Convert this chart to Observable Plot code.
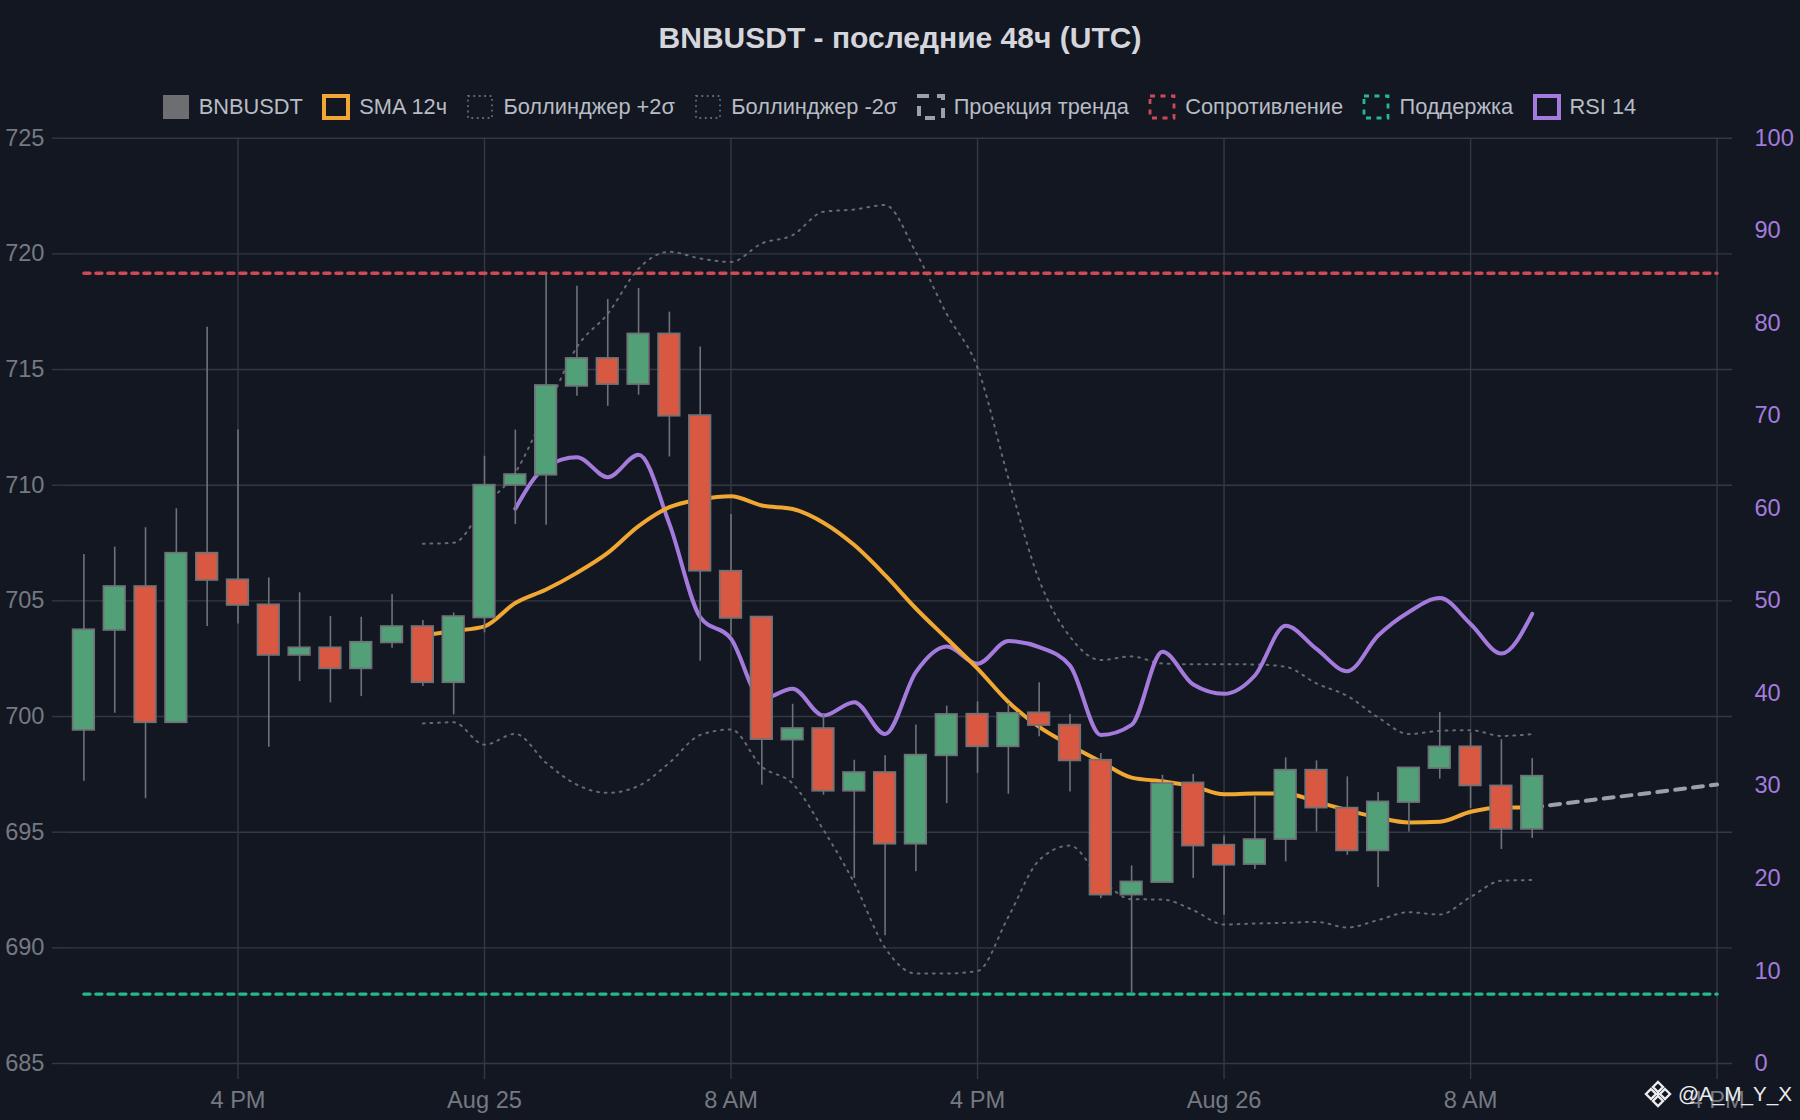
<!DOCTYPE html>
<html lang="ru">
<head>
<meta charset="utf-8">
<script src="https://cdn.jsdelivr.net/npm/d3@7"></script>
<script src="https://cdn.jsdelivr.net/npm/@observablehq/plot@0.6"></script>
<style>
  html, body { margin: 0; padding: 0; background: #121722; }
  body { width: 1800px; height: 1120px; position: relative; overflow: hidden; font-family: "Liberation Sans", sans-serif; }
  #title { height: 68px; line-height: 76px; text-align: center; font-size: 30px; font-weight: 700; color: #d4d6dc; }
  #legend { height: 57px; display: flex; justify-content: center; align-items: center; font-size: 21.8px; color: #b9bcc4; box-sizing: border-box; padding-top: 21px; padding-right: 2px; }
  #legend .item { display: flex; align-items: center; margin: 0 9.7px; }
  #legend svg { width: 28px; height: 26px; margin-right: 9px; display: block; }
  #chart svg { display: block; }
  #watermark { position: absolute; left: 1644px; top: 1080px; display: flex; align-items: center; color: #ececee; font-size: 20.7px; height: 28px; }
  #watermark svg { width: 28px; height: 28px; margin-right: 6px; }
</style>
</head>
<body>
<div id="title"></div>
<div id="legend"></div>
<div id="chart"></div>
<div id="watermark">
  <svg viewBox="0 0 28 28"><g fill="none" stroke="#ececee" stroke-width="2.4"><path d="M14 2 L19 7 L14 12 L9 7 Z"/><path d="M14 16 L19 21 L14 26 L9 21 Z"/><path d="M7 9 L12 14 L7 19 L2 14 Z"/><path d="M21 9 L26 14 L21 19 L16 14 Z"/></g><path d="M14 11.5 L16.5 14 L14 16.5 L11.5 14 Z" fill="#ececee"/></svg>
  <span>@A_M_Y_X</span>
</div>
<script>
const titleText = "BNBUSDT - последние 48ч (UTC)";
const firstCandle = Date.UTC(2025, 7, 24, 11);
const hour = 3600000;

const opens = [699.4,703.72,705.62,699.73,707.06,705.91,704.83,702.64,702.97,702.06,703.18,703.89,701.46,
  704.26,709.99,710.43,714.27,715.48,714.35,716.54,713.01,706.28,704.3,698.98,699.48,696.77,697.58,694.48,
  698.3,700.1,698.69,700.16,699.63,698.11,692.28,692.82,697.13,694.44,693.6,694.68,697.68,696.04,694.19,
  696.28,697.75,698.69,697.0,695.12];
const closes = [703.75,705.62,699.73,707.06,705.88,704.8,702.64,702.97,702.06,703.21,703.89,701.46,704.32,
  710.0,710.46,714.31,715.48,714.35,716.54,712.98,706.28,704.24,699.0,699.48,696.77,697.58,694.48,698.33,
  700.09,698.69,700.14,699.61,698.08,692.28,692.85,697.1,694.4,693.57,694.68,697.68,696.04,694.19,696.31,
  697.78,698.69,697.0,695.12,697.42];
const highs = [707.0,707.32,708.16,708.98,716.83,712.39,705.99,705.35,704.32,704.29,705.27,704.15,704.48,
  711.25,712.38,719.14,718.6,718.03,718.5,717.48,715.97,708.73,704.3,700.53,700.13,698.11,698.3,699.63,
  700.45,700.63,700.56,701.46,700.09,698.4,693.54,697.46,697.5,694.83,696.53,698.21,698.08,697.39,696.71,
  697.8,700.17,699.29,699.0,698.18];
const lows = [697.2,700.14,696.44,699.7,703.89,704.0,698.67,701.51,700.59,700.86,702.95,701.3,700.07,
  703.62,708.3,708.27,713.85,713.41,713.89,711.22,702.39,703.5,697.03,697.32,696.6,693.0,690.52,693.29,
  696.24,697.54,696.64,699.12,696.74,692.13,688.03,692.8,693.0,691.41,693.39,693.72,695.01,694.0,692.61,
  695.01,697.29,696.02,694.25,694.73];

// moving average and bands begin at candle 11, RSI at candle 14
const sma12 = [703.5,703.7,703.9,704.91,705.49,706.21,707.07,708.23,709.05,709.38,709.52,709.12,708.97,708.38,
  707.41,706.11,704.67,703.37,702.07,700.63,699.55,698.76,698.05,697.36,697.2,696.99,696.64,696.67,696.67,
  696.31,695.95,695.63,695.42,695.45,695.88,696.07,696.07];
const bollUpper = [707.47,707.51,709.1,710.55,713.22,715.97,717.41,719.36,720.09,719.8,719.65,720.45,720.81,
  721.82,721.92,722.11,720.07,717.4,715.07,710.3,705.9,703.45,702.44,702.6,702.29,702.26,702.26,702.25,702.15,
  701.43,700.89,699.96,699.24,699.38,699.41,699.16,699.24];
const bollLower = [699.7,699.75,698.78,699.25,698.0,697.05,696.7,697.0,698.0,699.2,699.44,697.83,697.1,695.1,
  692.8,690.0,688.89,688.89,689.0,691.34,693.79,694.42,693.0,692.1,692.09,691.63,691.01,691.05,691.08,691.12,
  690.88,691.2,691.54,691.44,692.2,692.9,692.93];
const rsi14 = [59.95,64.52,65.53,63.37,65.78,58.32,48.24,45.9,39.4,40.5,37.6,39.05,35.6,42.3,45.07,43.2,45.65,
  45.0,43.0,35.5,36.6,44.5,40.96,39.95,41.93,47.3,44.8,42.4,46.25,48.8,50.3,47.5,44.3,48.6];

const projectionTimes = [Date.UTC(2025, 7, 26, 10), Date.UTC(2025, 7, 26, 16)];
const projectionValues = [696.07, 697.06];
const levelTimes = [Date.UTC(2025, 7, 24, 11), Date.UTC(2025, 7, 26, 16)];
const resistanceLevel = 719.16;
const supportLevel = 688.0;

const priceTicks = [685,690,695,700,705,710,715,720,725];
const rsiTicks = [0,10,20,30,40,50,60,70,80,90,100];
const timeTicks = [Date.UTC(2025,7,24,16),Date.UTC(2025,7,25,0),Date.UTC(2025,7,25,8),Date.UTC(2025,7,25,16),Date.UTC(2025,7,26,0),Date.UTC(2025,7,26,8),Date.UTC(2025,7,26,16)];
const timeLabels = ["4 PM","Aug 25","8 AM","4 PM","Aug 26","8 AM","4 PM"];

const legendItems = [
  ["BNBUSDT", "fill"], ["SMA 12ч", "sma"], ["Боллинджер +2σ", "boll"], ["Боллинджер -2σ", "boll"],
  ["Проекция тренда", "proj"], ["Сопротивление", "res"], ["Поддержка", "sup"], ["RSI 14", "rsi"]
];

const C = { grid:"#343843", axis:"#767981", purple:"#a47bdc", orange:"#f0a832", green:"#51a078", red:"#d95842",
  edge:"#6f7276", boll:"#666a74", proj:"#9ca0a8", res:"#cf4a55", sup:"#26b98a" };

const swatchStyles = {
  fill: `<rect x="1" y="1" width="26" height="24" fill="#6c6e72"/>`,
  sma: `<rect x="2" y="2" width="24" height="22" fill="none" stroke="${C.orange}" stroke-width="4"/>`,
  boll: `<rect x="2" y="2" width="24" height="22" fill="none" stroke="${C.boll}" stroke-width="1.8" stroke-dasharray="1.8 3.6"/>`,
  proj: `<rect x="2" y="2" width="24" height="22" fill="none" stroke="${C.proj}" stroke-width="4" stroke-dasharray="10 8"/>`,
  res: `<rect x="2" y="2" width="24" height="22" fill="none" stroke="${C.res}" stroke-width="2.8" stroke-dasharray="5 5.5"/>`,
  sup: `<rect x="2" y="2" width="24" height="22" fill="none" stroke="${C.sup}" stroke-width="2.8" stroke-dasharray="5 5.5"/>`,
  rsi: `<rect x="2" y="2" width="24" height="22" fill="none" stroke="${C.purple}" stroke-width="4"/>`
};

document.getElementById("title").textContent = titleText;
document.getElementById("legend").innerHTML = legendItems.map(([label, kind]) =>
  `<div class="item"><svg viewBox="0 0 28 26">${swatchStyles[kind]}</svg><span>${label}</span></div>`).join("");

const candleTime = i => new Date(firstCandle + i * hour);
const candles = opens.map((o, i) => ({ t: candleTime(i), open: o, close: closes[i], high: highs[i], low: lows[i] }));
const halfBody = 21 * 60000;

const smaRows = sma12.map((v, i) => ({ t: candleTime(i + 11), v }));
const upperRows = bollUpper.map((v, i) => ({ t: candleTime(i + 11), v }));
const lowerRows = bollLower.map((v, i) => ({ t: candleTime(i + 11), v }));
const priceDomain = [685, 725];
const rsiToPrice = r => priceDomain[0] + (r / 100) * (priceDomain[1] - priceDomain[0]);
const priceToRsi = p => Math.round((p - priceDomain[0]) * 100 / (priceDomain[1] - priceDomain[0]));
const rsiRows = rsi14.map((v, i) => ({ t: candleTime(i + 14), v: rsiToPrice(v) }));
const projRows = projectionTimes.map((t, i) => ({ t: new Date(t), v: projectionValues[i] }));
const levelRows = level => levelTimes.map(t => ({ t: new Date(t), v: level }));
const labelFor = d => timeLabels[timeTicks.indexOf(+d)];

const chart = Plot.plot({
  width: 1800, height: 995,
  marginLeft: 68, marginRight: 68, marginTop: 12.7, marginBottom: 57,
  style: { background: "transparent", fontFamily: "Liberation Sans, sans-serif", overflow: "visible" },
  x: { type: "utc", domain: [new Date(Date.UTC(2025,7,24,10,30)), new Date(Date.UTC(2025,7,26,16,30))], axis: null },
  y: { domain: priceDomain, axis: null },
  marks: [
    Plot.gridY(priceTicks, { stroke: C.grid, strokeOpacity: 1, strokeWidth: 1.4 }),
    Plot.gridX(timeTicks.map(t => new Date(t)), { stroke: C.grid, strokeOpacity: 1, strokeWidth: 1.4 }),
    Plot.axisY(priceTicks, { anchor: "left", tickSize: 16, tickPadding: 8, stroke: C.grid, fill: C.axis, fontSize: 23.6, strokeWidth: 1.4, label: null }),
    Plot.axisY(rsiTicks.map(rsiToPrice), { anchor: "right", tickSize: 0, tickPadding: 22, fill: C.purple, fontSize: 23.6, tickFormat: priceToRsi, label: null }),
    Plot.axisX(timeTicks.map(t => new Date(t)), { anchor: "bottom", tickSize: 16, tickPadding: 11.5, stroke: C.grid, fill: C.axis, fontSize: 23.6, strokeWidth: 1.4, tickFormat: labelFor, label: null }),
    Plot.line(upperRows, { x: "t", y: "v", stroke: C.boll, strokeWidth: 2, strokeDasharray: "1.8 5.8", curve: "monotone-x" }),
    Plot.line(lowerRows, { x: "t", y: "v", stroke: C.boll, strokeWidth: 2, strokeDasharray: "1.8 5.8", curve: "monotone-x" }),
    Plot.line(levelRows(resistanceLevel), { x: "t", y: "v", stroke: C.res, strokeWidth: 3.4, strokeDasharray: "6 6" }),
    Plot.line(levelRows(supportLevel), { x: "t", y: "v", stroke: C.sup, strokeWidth: 3.4, strokeDasharray: "6 6" }),
    Plot.line(projRows, { x: "t", y: "v", stroke: C.proj, strokeWidth: 4, strokeDasharray: "10 8" }),
    Plot.line(rsiRows, { x: "t", y: "v", stroke: C.purple, strokeWidth: 4, curve: "monotone-x" }),
    Plot.line(smaRows, { x: "t", y: "v", stroke: C.orange, strokeWidth: 4, curve: "monotone-x" }),
    Plot.ruleX(candles, { x: "t", y1: "low", y2: "high", stroke: C.edge, strokeWidth: 1.6 }),
    Plot.rect(candles, {
      x1: d => new Date(+d.t - halfBody), x2: d => new Date(+d.t + halfBody),
      y1: "open", y2: "close",
      fill: d => d.close >= d.open ? C.green : C.red,
      stroke: C.edge, strokeWidth: 1.7
    })
  ]
});
document.getElementById("chart").appendChild(chart);
</script>
</body>
</html>
